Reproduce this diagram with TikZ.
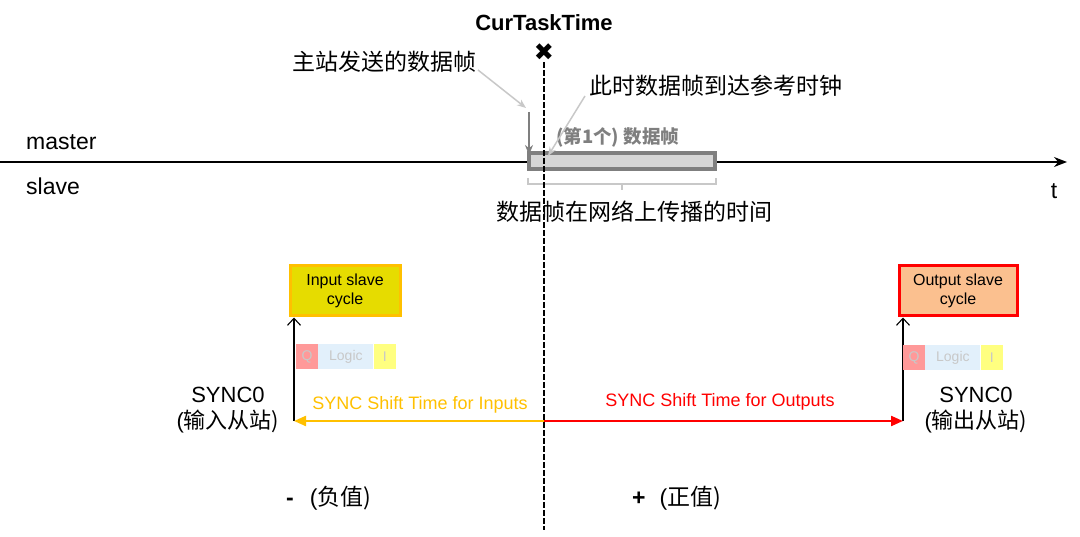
\documentclass[tikz,border=0pt]{standalone}
\usepackage{fontspec}
\setmainfont{Liberation Sans}
\newfontfamily\cjk{Noto Sans CJK SC}
\newfontfamily\dejavu{DejaVu Sans}
\usetikzlibrary{arrows.meta,decorations.pathreplacing}
\definecolor{gold}{HTML}{FFC000}
\definecolor{ycell}{HTML}{E6DC00}
\definecolor{ocell}{HTML}{FBC08F}
\definecolor{qcol}{HTML}{FF9999}
\definecolor{lcol}{HTML}{E2F0FB}
\definecolor{icol}{HTML}{FFFF80}
\definecolor{fgray}{HTML}{7F7F7F}
\definecolor{lgray}{HTML}{C8C8C8}
\newcommand{\fs}[1]{\fontsize{#1}{#1}\selectfont\setlength{\baselineskip}{1.2\baselineskip}}
\tikzset{
  lbl/.style={inner sep=0pt, font=\fs{23}},
  cyc/.style={minimum width=#1, minimum height=50, inner sep=0pt, align=center, font=\fs{16}, line width=3},
  cell/.style={minimum height=25, inner sep=0pt, font=\fs{14}, text=lgray},
}
\begin{document}
\begin{tikzpicture}[x=1pt,y=-1pt]
\useasboundingbox (0,0) rectangle (1080,537);
% header
\node[font=\bfseries\fs{22}] (ctt) at (544,23) {CurTaskTime};
\node[font=\dejavu\fs{24}, inner sep=0pt] (cross) at (544,52) {✖};
\coordinate (dtop) at (544,62);
\coordinate (dbot) at (544,530);
% axis
\coordinate (ax0) at (0,162);
\coordinate (ax1) at (1067,162);
\draw[line width=1.2, -{Stealth[length=13, width=10]}] (ax0) -- (ax1);
\node[lbl, anchor=west] (master) at (26,142) {master};
\node[lbl, anchor=west] (slave) at (26,186) {slave};
\node[lbl] (t) at (1054,191) {t};
% frame box
\node[draw=fgray, fill=black!16, line width=3.5, minimum width=186, minimum height=16, inner sep=0pt] (frame) at (622,161) {};
\node[lbl, font=\cjk\bfseries\fs{18.5}, text=fgray, anchor=west] (flabel) at (556,137) {(第1个) 数据帧};
% brace
\draw[lgray, line width=1.2] (528,178) -- (528,184) -- (716,184) -- (716,178);
\coordinate (bmid) at (622,184);
\coordinate (btick) at (622,190);
\draw[lgray, line width=1.2] (bmid) -- (btick);
\node[lbl, font=\cjk\fs{23}] (prop) at (634,212) {数据帧在网络上传播的时间};
% annotations
\node[lbl, font=\cjk\fs{23}, anchor=west] (send) at (292,62) {主站发送的数据帧};
\node[lbl, font=\cjk\fs{23}, anchor=west] (arrive) at (589,86) {此时数据帧到达参考时钟};
\coordinate (s1) at (478,70);
\coordinate (s2) at (526,108);
\draw[lgray, line width=1.5, -{Stealth[length=9, width=7]}] (s1) -- (s2);
\coordinate (a1) at (585,96);
\coordinate (a2) at (548,156);
\draw[lgray, line width=1.5, -{Stealth[length=9, width=7]}] (a1) -- (a2);
\coordinate (v1) at (529,112);
\coordinate (v2) at (529,155);
\draw[fgray, line width=2.5, -{Stealth[length=10, width=8]}] (v1) -- (v2);
% dashed center line
\draw[line width=1.3, dash pattern=on 6 off 2] (dtop) -- (dbot);
% Input side
\node[cyc=110, draw=gold, fill=ycell] (inbox) at (345,291) {Input slave\\cycle};
\coordinate (inbase) at (294,421);
\draw[line width=1.1, -{Straight Barb[length=7, width=13]}] (inbase) -- (inbox.south west -| inbase);
\node[cell, fill=qcol, minimum width=22] (iq) at (307,357) {Q};
\node[cell, fill=lcol, minimum width=55, anchor=west] (il) at (iq.east) {Logic};
\node[cell, fill=icol, minimum width=22, anchor=west] (ii) at (il.east) {I};
\node[lbl, font=\fs{22}, align=center] (sync0in) at (228,410) {SYNC0\\(\cjk 输入从站)};
\coordinate (mid) at (544,421);
\draw[gold, line width=2.2, -{Triangle[length=12, width=10]}] (mid) -- (inbase);
\node[lbl, font=\fs{18}, text=gold] (inlabel) at (420,405) {SYNC Shift Time for Inputs};
% Output side
\node[cyc=118, draw=red, fill=ocell] (outbox) at (958,291) {Output slave\\cycle};
\coordinate (outbase) at (903,421);
\draw[line width=1.1, -{Straight Barb[length=7, width=13]}] (outbase) -- (outbox.south west -| outbase);
\node[cell, fill=qcol, minimum width=22] (oq) at (914,358) {Q};
\node[cell, fill=lcol, minimum width=55, anchor=west] (ol) at (oq.east) {Logic};
\node[cell, fill=icol, minimum width=22, anchor=west] (oi) at (ol.east) {I};
\node[lbl, font=\fs{22}, align=center] (sync0out) at (976,410) {SYNC0\\(\cjk 输出从站)};
\draw[red, line width=2.2, -{Triangle[length=12, width=10]}] (mid) -- (outbase);
\node[lbl, font=\fs{18}, text=red] (outlabel) at (720,402) {SYNC Shift Time for Outputs};
% bottom
\node[lbl, anchor=west] (neg) at (286,498) {\textbf{-}\hspace{16pt}(\cjk 负值)};
\node[lbl, anchor=west] (pos) at (632,498) {\textbf{+}\hspace{14pt}(\cjk 正值)};
\end{tikzpicture}
\end{document}
